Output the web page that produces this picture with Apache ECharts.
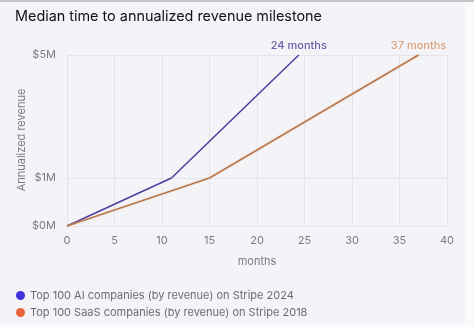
<!DOCTYPE html>
<html>
<head>
<meta charset="utf-8">
<script src="https://cdn.jsdelivr.net/npm/echarts@6/dist/echarts.min.js"></script>
<style>
html,body{margin:0;padding:0;background:#fafafc;}
#wrap{position:absolute;left:0;top:0;width:474px;height:327px;background:#fafafc;}
#bar{position:absolute;left:0;top:0;width:474px;height:2px;background:#c6c6c9;}
#chart{position:absolute;left:0;top:2px;width:465px;height:322px;}
</style>
</head>
<body>
<div id="wrap"><div id="bar"></div><div id="chart"></div></div>
<script>
// ---- data ----
const titleText = 'Median time to annualized revenue milestone';
const seriesNames = ['Top 100 AI companies (by revenue) on Stripe 2024', 'Top 100 SaaS companies (by revenue) on Stripe 2018'];
const aiMonths = [0, 11, 24.4];
const aiRevenue = [0, 1, 5];
const saasMonths = [0, 15, 37];
const saasRevenue = [0, 1, 5];
const endLabels = ['24 months', '37 months'];
const xTicks = [0, 5, 10, 15, 20, 25, 30, 35, 40];
const yTicks = [0, 1, 5];
const yTickLabels = ['$0M', '$1M', '$5M'];
const xName = 'months';
const yName = 'Annualized revenue';

// ---- styles ----
const lineColors = ['#4b3f9e', '#b8774d'];
const legendColors = ['#4433dd', '#e8643a'];
const labelColors = ['#6660a8', '#d9a27a'];
const gridColor = '#e4e4ea';
const textColor = '#7a7a80';
const FONT = 'Inter, "Noto Sans", sans-serif';

const chart = echarts.init(document.getElementById('chart'), null, {renderer: 'canvas'});

const breakVal = yTicks[1];
function pts(xs, ys, upper) {
  const out = [];
  for (let i = 0; i < xs.length; i++) {
    if (upper ? ys[i] >= breakVal : ys[i] <= breakVal) out.push([xs[i], ys[i]]);
  }
  return out;
}

function makeSeries(idx, xs, ys) {
  const lower = pts(xs, ys, false);
  const upper = pts(xs, ys, true).map((p, i, arr) => {
    if (i === arr.length - 1) {
      return {value: p, label: {show: true, position: 'top', distance: 4, formatter: endLabels[idx],
        color: labelColors[idx], fontSize: 11, fontFamily: FONT, fontWeight: 500}};
    }
    return p;
  });
  const ls = {color: lineColors[idx], width: 1.5};
  if (idx === 1) { ls.shadowColor = 'rgba(245,175,130,0.45)'; ls.shadowBlur = 2; }
  const common = {type: 'line', name: seriesNames[idx], symbol: 'circle', symbolSize: 0.001,
    showSymbol: true, itemStyle: {color: lineColors[idx]}, lineStyle: ls, silent: true, z: 3 + idx, clip: false};
  return [
    Object.assign({}, common, {xAxisIndex: 1, yAxisIndex: 1, data: lower}),
    Object.assign({}, common, {xAxisIndex: 0, yAxisIndex: 0, data: upper})
  ];
}

const xMin = xTicks[0], xMax = xTicks[xTicks.length - 1], xInt = xTicks[1] - xTicks[0];

const option = {
  backgroundColor: '#f4f4f8',
  animation: false,
  title: {text: titleText, left: 10, top: 3,
    textStyle: {fontFamily: FONT, fontSize: 14.4, fontWeight: 'normal', color: '#111114'}},
  legend: {orient: 'vertical', left: 11, top: 288, height: 60, itemWidth: 9, itemHeight: 9, itemGap: 6, icon: 'circle',
    padding: [0, 5, 0, 5],
    textStyle: {fontFamily: FONT, fontSize: 11, color: '#6b6b72'},
    data: seriesNames.map((n, i) => ({name: n, itemStyle: {color: legendColors[i]}}))},
  grid: [
    {left: 67, right: 18, top: 53, height: 123},
    {left: 67, right: 18, top: 176, height: 48}
  ],
  xAxis: [
    {gridIndex: 0, type: 'value', min: xMin, max: xMax, interval: xInt,
      axisLabel: {show: false}, axisLine: {show: false}, axisTick: {show: false},
      splitLine: {show: true, lineStyle: {color: gridColor, width: 1}}},
    {gridIndex: 1, type: 'value', min: xMin, max: xMax, interval: xInt,
      name: xName, nameLocation: 'middle', nameGap: 30,
      nameTextStyle: {fontFamily: FONT, fontSize: 11, color: textColor},
      axisLabel: {fontFamily: FONT, fontSize: 11, color: textColor, margin: 9},
      axisLine: {show: false}, axisTick: {show: false},
      splitLine: {show: true, lineStyle: {color: gridColor, width: 1}}}
  ],
  yAxis: [
    {gridIndex: 0, type: 'value', min: yTicks[1], max: yTicks[2], interval: yTicks[2] - yTicks[1],
      axisLabel: {fontFamily: FONT, fontSize: 11, color: textColor, margin: 11,
        formatter: v => (v === yTicks[2] ? yTickLabels[2] : '')},
      axisLine: {show: false}, axisTick: {show: false},
      splitLine: {show: true, lineStyle: {color: gridColor, width: 1}}},
    {gridIndex: 1, type: 'value', min: yTicks[0], max: yTicks[1], interval: yTicks[1] - yTicks[0],
      axisLabel: {fontFamily: FONT, fontSize: 11, color: textColor, margin: 11,
        formatter: v => yTickLabels[yTicks.indexOf(v)]},
      axisLine: {show: false}, axisTick: {show: false},
      splitLine: {show: true, lineStyle: {color: gridColor, width: 1}}}
  ],
  graphic: [
    {type: 'text', x: 22, y: 138, rotation: Math.PI / 2,
      style: {text: yName, fontFamily: FONT, fontSize: 11, fill: textColor, align: 'center', verticalAlign: 'middle'}}
  ],
  series: [].concat(makeSeries(0, aiMonths, aiRevenue), makeSeries(1, saasMonths, saasRevenue))
};
chart.setOption(option);
</script>
</body>
</html>
